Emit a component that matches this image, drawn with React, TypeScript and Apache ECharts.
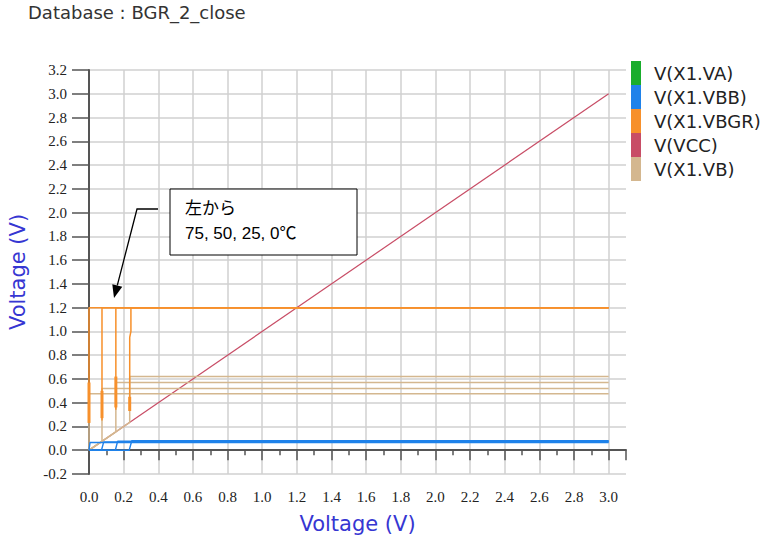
import { useEffect, useRef } from 'react';
import * as echarts from 'echarts';

const titleText = 'Database : BGR_2_close';
const axisName = 'Voltage (V)';
const legendNames = ['V(X1.VA)', 'V(X1.VBB)', 'V(X1.VBGR)', 'V(VCC)', 'V(X1.VB)'];
const seriesColors = ['#19ad2c', '#1f82ea', '#f7902b', '#c84d66', '#d4b78f'];
const noteLines = ['左から', '75, 50, 25, 0℃'];

// V(X1.VA): not visible in the plot
const vaData: number[][] = [];

// V(VCC): the sweep itself
const vccData = [[0, 0], [3, 3]];

// V(X1.VBB) for 75, 50, 25, 0 °C
const vbb75 = [[0, 0], [0.006, 0.065], [3, 0.065]];
const vbb50 = [[0, 0], [0.072, 0], [0.085, 0.07], [3, 0.07]];
const vbb25 = [[0, 0], [0.152, 0], [0.165, 0.075], [3, 0.075]];
const vbb0 = [[0, 0], [0.232, 0], [0.247, 0.08], [3, 0.08]];

// V(X1.VBGR) for 75, 50, 25, 0 °C
const vbgr75 = [[0, 0.23], [0, 1.2], [3, 1.2]];
const vbgr50 = [[0.075, 0.25], [0.075, 1.2], [3, 1.2]];
const vbgr25 = [[0.155, 0.34], [0.155, 1.2], [3, 1.2]];
const vbgr0 = [[0.235, 0.33], [0.235, 0.95], [0.242, 1.0], [0.242, 1.2], [3, 1.2]];
// denser (oscillating) parts of the VBGR transitions
const vbgrDense75 = [[0, 0.23], [0, 0.57]];
const vbgrDense50 = [[0.075, 0.27], [0.075, 0.5]];
const vbgrDense25 = [[0.155, 0.36], [0.155, 0.62]];
const vbgrDense0 = [[0.235, 0.33], [0.235, 0.45]];

// V(X1.VB) for 75, 50, 25, 0 °C
const vb75 = [[0, 0], [0, 0.475], [3, 0.475]];
const vb50 = [[0, 0], [0.075, 0.075], [0.075, 0.52], [3, 0.52]];
const vb25 = [[0, 0], [0.155, 0.155], [0.155, 0.57], [3, 0.57]];
const vb0 = [[0, 0], [0.235, 0.235], [0.235, 0.62], [3, 0.62]];

function lineSeries(name: string, data: number[][], color: string, width: number, z: number) {
  return {
    type: 'line',
    name,
    data,
    showSymbol: false,
    symbol: 'none',
    clip: false,
    z,
    itemStyle: { color },
    lineStyle: { color, width },
    emphasis: { disabled: true },
  };
}

export default function App() {
  const ref = useRef<HTMLDivElement>(null);
  useEffect(() => {
    if (!ref.current) return;
    const chart = echarts.init(ref.current, undefined, { renderer: 'svg' });
    const [cVA, cVBB, cVBGR, cVCC, cVB] = seriesColors;
    const series = [
      lineSeries(legendNames[0], vaData, cVA, 1.5, 1),
      lineSeries(legendNames[3], vccData, cVCC, 1.2, 2),
      ...[vb75, vb50, vb25, vb0].map((d) => lineSeries(legendNames[4], d, cVB, 1.5, 3)),
      ...[vbgr75, vbgr50, vbgr25, vbgr0].map((d) => lineSeries(legendNames[2], d, cVBGR, 1.5, 4)),
      ...[vbgrDense75, vbgrDense50, vbgrDense25, vbgrDense0].map((d) => lineSeries(legendNames[2], d, cVBGR, 3, 4)),
      ...[vbb75, vbb50, vbb25, vbb0].map((d) => lineSeries(legendNames[1], d, cVBB, 1.4, 5)),
    ];
    const isMajor = (v: number) => Math.abs(v / 0.2 - Math.round(v / 0.2)) < 1e-6;
    chart.setOption({
      animation: false,
      backgroundColor: '#ffffff',
      title: {
        text: titleText,
        left: 23,
        top: -2,
        textStyle: { fontFamily: 'DejaVu Sans', fontSize: 18, fontWeight: 'normal', color: '#333333' },
      },
      legend: {
        data: legendNames,
        orient: 'vertical',
        left: 626,
        top: 56,
        icon: 'rect',
        itemWidth: 10,
        itemHeight: 24,
        itemGap: 0,
        selectedMode: false,
        textStyle: { fontFamily: 'DejaVu Sans', fontSize: 18, color: '#222222', padding: [0, 0, 0, 8] },
      },
      grid: { left: 89, right: 142, top: 70, bottom: 67, containLabel: false, outerBoundsMode: 'none' },
      xAxis: {
        type: 'value',
        min: 0,
        max: 3.1,
        interval: 0.2,
        offset: 6,
        name: axisName,
        nameLocation: 'middle',
        nameGap: 33,
        nameTextStyle: { fontFamily: 'DejaVu Sans', fontSize: 21, color: '#3636d2' },
        axisLine: { show: true, lineStyle: { color: '#555555', width: 2 } },
        axisTick: { show: true, inside: false, length: 10, lineStyle: { color: '#555555', width: 1.5 } },
        minorTick: { show: true, splitNumber: 2, length: 5, lineStyle: { color: '#555555', width: 1.5 } },
        axisLabel: {
          margin: 9,
          fontFamily: 'Liberation Serif',
          fontSize: 15,
          color: '#222222',
          formatter: (v: number) => (isMajor(v) ? v.toFixed(1) : ''),
        },
        splitLine: { show: true, showMaxLine: false, lineStyle: { color: '#d0d0d0', width: 1.5 } },
      },
      yAxis: {
        type: 'value',
        min: -0.2,
        max: 3.2,
        interval: 0.2,
        name: axisName,
        nameLocation: 'middle',
        nameGap: 61,
        nameTextStyle: { fontFamily: 'DejaVu Sans', fontSize: 21, color: '#3636d2' },
        axisLine: { show: true, lineStyle: { color: '#555555', width: 2 } },
        axisTick: { show: true, inside: false, length: 17, lineStyle: { color: '#555555', width: 1.5 } },
        axisLabel: {
          margin: 22,
          fontFamily: 'Liberation Serif',
          fontSize: 15,
          color: '#222222',
          formatter: (v: number) => v.toFixed(1),
        },
        splitLine: { show: true, lineStyle: { color: '#d0d0d0', width: 1.5 } },
      },
      graphic: [
        {
          type: 'rect',
          shape: { x: 170, y: 189, width: 187, height: 66 },
          style: { fill: '#ffffff', stroke: '#000000', lineWidth: 1 },
          z: 100,
        },
        {
          type: 'text',
          x: 185,
          y: 208,
          style: {
            text: noteLines[0],
            fontFamily: 'Liberation Sans, Noto Sans CJK JP',
            fontSize: 17,
            fill: '#000000',
            verticalAlign: 'middle',
          },
          z: 101,
        },
        {
          type: 'text',
          x: 185,
          y: 233,
          style: {
            text: noteLines[1],
            fontFamily: 'Liberation Sans, Noto Sans CJK JP',
            fontSize: 17,
            fill: '#000000',
            verticalAlign: 'middle',
          },
          z: 101,
        },
        {
          type: 'polyline',
          shape: { points: [[158, 209], [137, 209], [117.3, 285.4]] },
          style: { stroke: '#000000', lineWidth: 1.3, fill: 'none' },
          z: 100,
        },
        {
          type: 'polygon',
          shape: { points: [[114, 298], [122.3, 286.7], [112.3, 284.2]] },
          style: { fill: '#000000' },
          z: 100,
        },
      ],
      series,
    });
    return () => chart.dispose();
  }, []);
  return <div ref={ref} style={{ width: 768, height: 541, position: 'absolute', left: 0, top: 0 }} />;
}
